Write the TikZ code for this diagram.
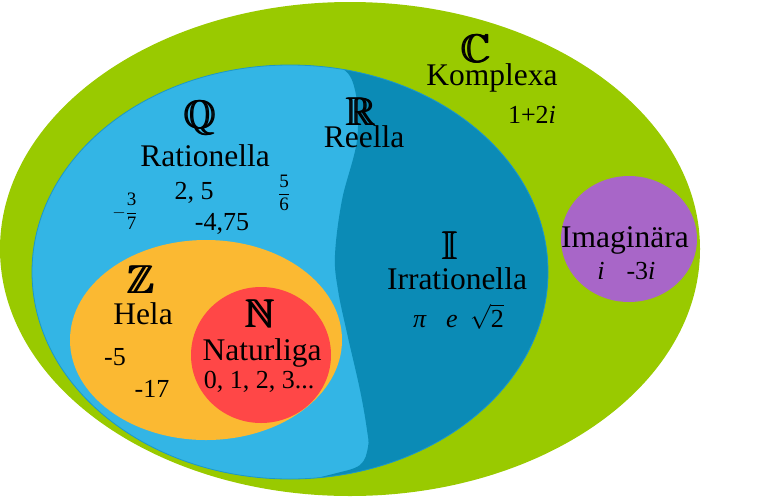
\documentclass[tikz,border=0pt]{standalone}
\usepackage{amsmath,amssymb}
\usepackage{fontspec}
\setmainfont{Liberation Serif}
\newfontfamily\tnr{Liberation Serif}
\definecolor{cgreen}{HTML}{99CA00}
\definecolor{clblue}{HTML}{33B5E5}
\definecolor{cdblue}{HTML}{0B8BB6}
\definecolor{cedge}{HTML}{1C98C8}
\definecolor{corange}{HTML}{FBB932}
\definecolor{cred}{HTML}{FF4747}
\definecolor{cpurple}{HTML}{A866C8}
\newcommand{\bbsym}[1]{\rlap{$\mathbb{#1}$}\kern0.7pt\rlap{$\mathbb{#1}$}\kern0.7pt$\mathbb{#1}$}
\tikzset{
  lbl/.style={anchor=base,inner sep=0pt,font=\tnr\fontsize{31.5}{36}\selectfont},
  num/.style={anchor=base,inner sep=0pt,font=\tnr\fontsize{26}{30}\selectfont},
  frc/.style={anchor=center,inner sep=0pt,font=\tnr\fontsize{19}{22}\selectfont},
  bb/.style={anchor=center,inner sep=0pt,font=\fontsize{40}{44}\selectfont}
}
\begin{document}
\begin{tikzpicture}[x=1pt,y=-1pt]
\useasboundingbox (0,0) rectangle (768,496);
% C
\fill[cgreen] (350,249) ellipse [x radius=350pt, y radius=247pt];
% R
\fill[clblue] (290,272) ellipse [x radius=258pt, y radius=207pt];
\begin{scope}
\clip (290,272) ellipse [x radius=258pt, y radius=207pt];
\fill[cdblue] plot[smooth, tension=0.6] coordinates {(300,58) (340,67) (355,90) (357,140) (342,200) (335,255) (338,290) (347,333) (360,390) (367,430) (368,447) (360,465) (333,474) (290,484)} -- (620,484) -- (620,40) -- cycle;
\end{scope}
\draw[cedge,line width=0.8pt] (290,272) ellipse [x radius=258pt, y radius=207pt];
% Z
\fill[corange] (206,340) ellipse [x radius=136pt, y radius=100pt];
% N
\fill[cred] (261,355) ellipse [x radius=70pt, y radius=68pt];
% Imaginary
\fill[cpurple] (629,239) ellipse [x radius=68pt, y radius=63pt];

% labels
\node[bb] (sC) at (476,49) {\bbsym{C}};
\node[lbl] (tC) at (492,85) {Komplexa};
\node[num] (eC) at (532,123) {1+2\textit{i}};

\node[bb] (sR) at (361,112) {\bbsym{R}};
\node[lbl] (tR) at (364,147) {Reella};

\node[bb] (sQ) at (200,118) {\bbsym{Q}};
\node[lbl] (tQ) at (205,166) {Rationella};
\node[num] (q1) at (194,199) {2, 5};
\node[frc] (q2) at (284,193) {$\dfrac{\text{5}}{\text{6}}$};
\node[frc] (q3) at (125,211) {$-\dfrac{\text{3}}{\text{7}}$};
\node[num] (q4) at (222,230) {-4,75};

\node[bb] (sI) at (450,246) {\bbsym{I}};
\node[lbl] (tI) at (457,289) {Irrationella};
\node[num] (i1) at (420,327) {\textit{π}};
\node[num] (i2) at (452,327) {\textit{e}};
\node[num] (i3) at (487,327) {$\smash{\sqrt{\text{2}}}$};

\node[lbl] (tIm) at (625,247) {Imaginära};
\node[num] (m1) at (601,279) {\textit{i}};
\node[num] (m2) at (641,279) {-3\textit{i}};

\node[bb] (sZ) at (141,280) {\bbsym{Z}};
\node[lbl] (tZ) at (143,324) {Hela};
\node[num] (z1) at (115,365) {-5};
\node[num] (z2) at (152,397) {-17};

\node[bb] (sN) at (260,314) {\bbsym{N}};
\node[lbl] (tN) at (262,360) {Naturliga};
\node[num] (n1) at (259,388) {0, 1, 2, 3...};
\end{tikzpicture}
\end{document}
